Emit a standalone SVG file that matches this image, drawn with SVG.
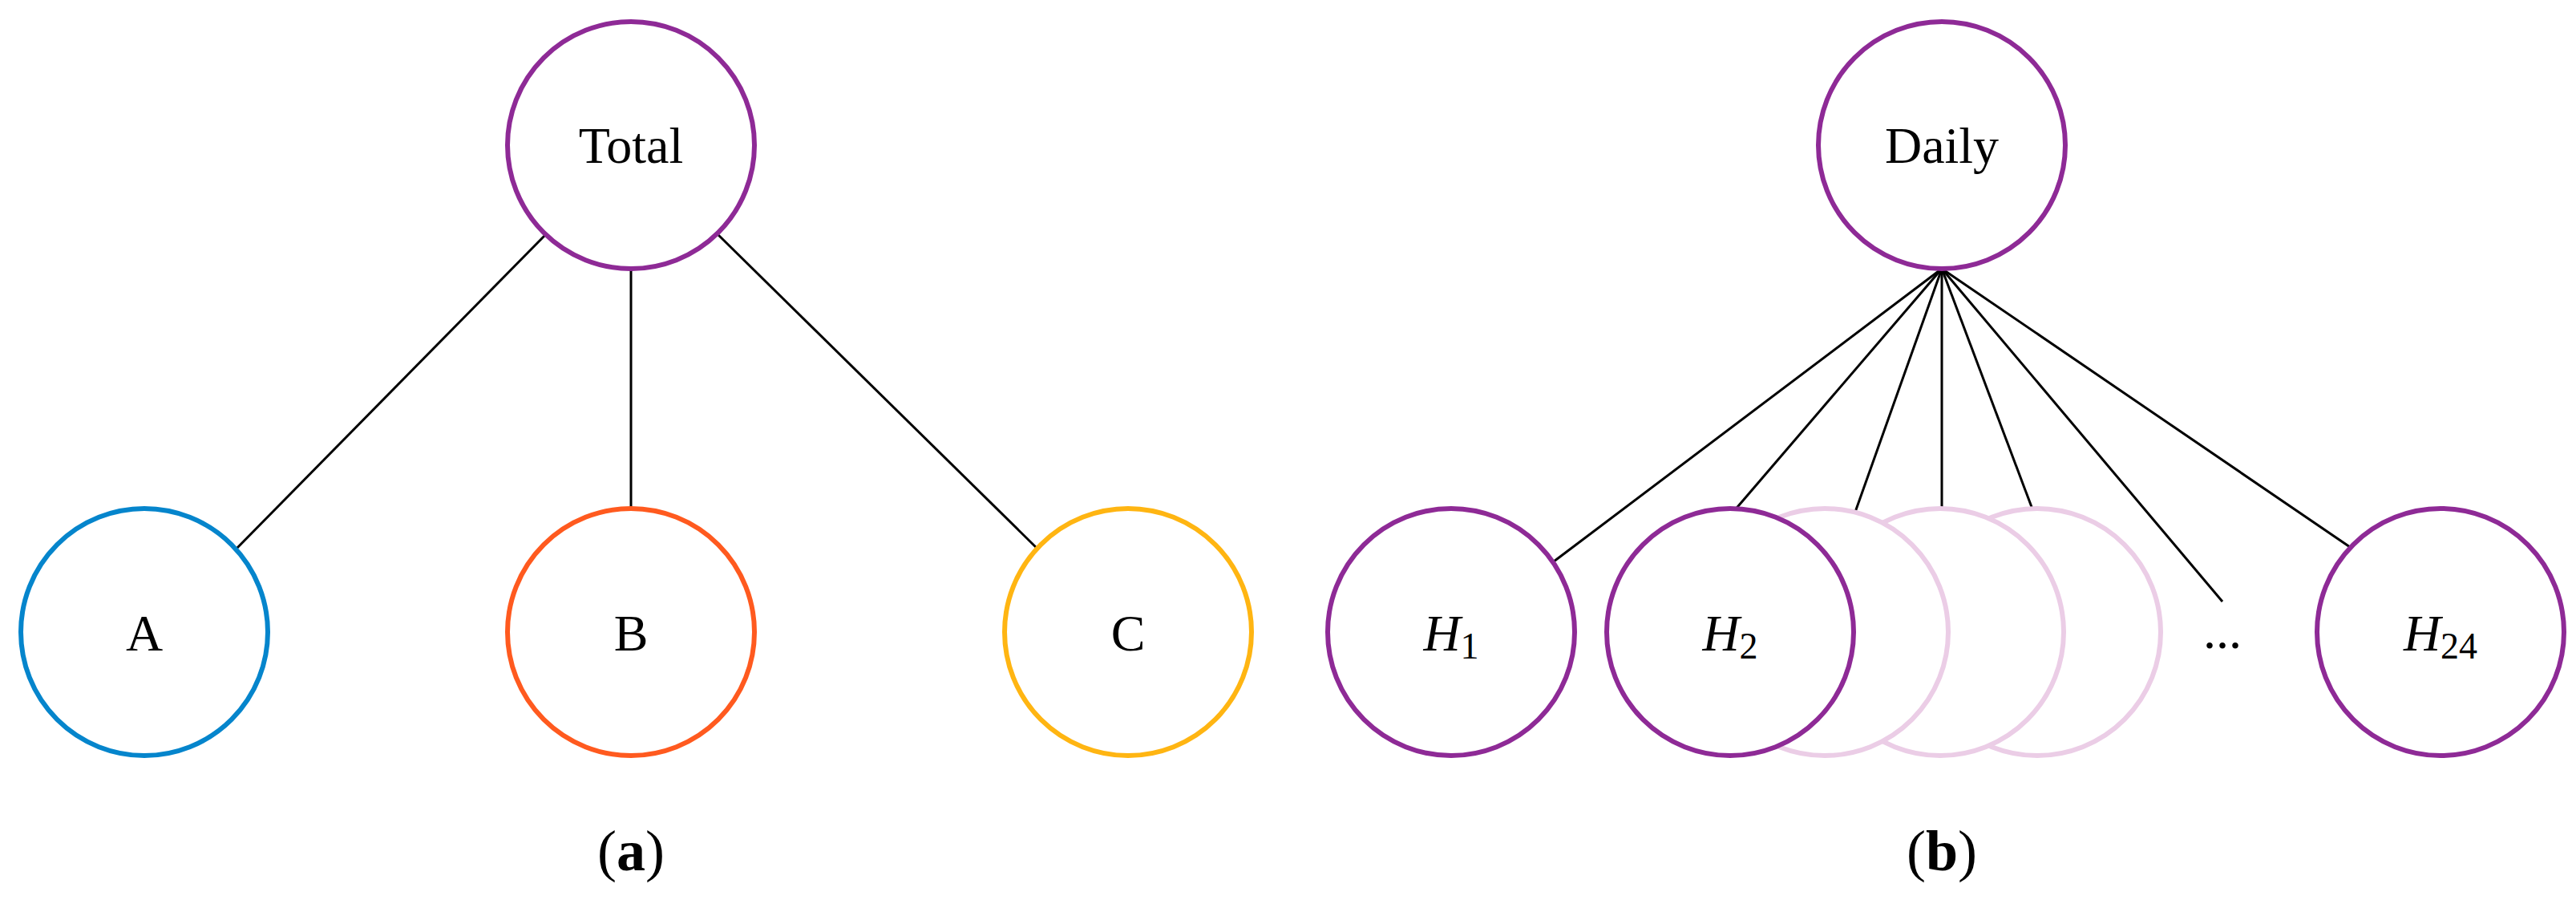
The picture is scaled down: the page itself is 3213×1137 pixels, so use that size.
<svg xmlns="http://www.w3.org/2000/svg" width="3213" height="1137" viewBox="0 0 3213 1137">
<style>
.n{fill:#fff;stroke-width:6}
.p{stroke:#8E2A96}
.f{stroke:#EBCDE6}
.t{font-family:"Liberation Serif",serif;font-size:64px;text-anchor:middle;fill:#000}
.i{font-style:italic}
.s{font-size:46px;font-style:normal}
.c{font-family:"Liberation Serif",serif;font-size:72px;text-anchor:middle}
.e line{stroke:#000;stroke-width:3}
</style>
<rect width="3213" height="1137" fill="#fff"/>
<g class="e" id="connectors">
<line x1="681" y1="292" x2="291" y2="688"/>
<line x1="787" y1="335" x2="787" y2="637"/>
<line x1="893" y1="290" x2="1298" y2="688"/>
<line x1="2422" y1="335" x2="1938" y2="700"/>
<line x1="2422" y1="335" x2="2162" y2="638"/>
<line x1="2422" y1="335" x2="2313" y2="641"/>
<line x1="2422" y1="335" x2="2422" y2="640"/>
<line x1="2422" y1="335" x2="2537" y2="640"/>
<line x1="2422" y1="335" x2="2772" y2="750"/>
<line x1="2422" y1="335" x2="2934" y2="684"/>
</g>
<g id="total"><circle class="n p" cx="787" cy="181" r="154"/><text class="t" x="787" y="203">Total</text></g>
<g id="A"><circle class="n" stroke="#0585CC" cx="180" cy="788" r="154"/><text class="t" x="180" y="811">A</text></g>
<g id="B"><circle class="n" stroke="#FF5A1F" cx="787" cy="788" r="154"/><text class="t" x="787" y="811">B</text></g>
<g id="C"><circle class="n" stroke="#FFB512" cx="1407" cy="788" r="154"/><text class="t" x="1407" y="811">C</text></g>
<g id="daily"><circle class="n p" cx="2422" cy="181" r="154"/><text class="t" x="2422" y="203">Daily</text></g>
<g id="faint">
<circle class="n f" cx="2541" cy="788" r="154"/>
<circle class="n f" cx="2420" cy="788" r="154"/>
<circle class="n f" cx="2276" cy="788" r="154"/>
</g>
<g id="H1"><circle class="n p" cx="1810" cy="788" r="154"/><text class="t i" x="1810" y="811">H<tspan class="s" dy="10">1</tspan></text></g>
<g id="H2"><circle class="n p" cx="2158" cy="788" r="154"/><text class="t i" x="2158" y="811">H<tspan class="s" dy="10">2</tspan></text></g>
<g id="dots"><text class="t" x="2772" y="808">...</text></g>
<g id="H24"><circle class="n p" cx="3044" cy="788" r="154"/><text class="t i" x="3044" y="811">H<tspan class="s" dy="10">24</tspan></text></g>
<text class="c" x="787" y="1085">(<tspan font-weight="bold">a</tspan>)</text>
<text class="c" x="2422" y="1085">(<tspan font-weight="bold">b</tspan>)</text>
</svg>
